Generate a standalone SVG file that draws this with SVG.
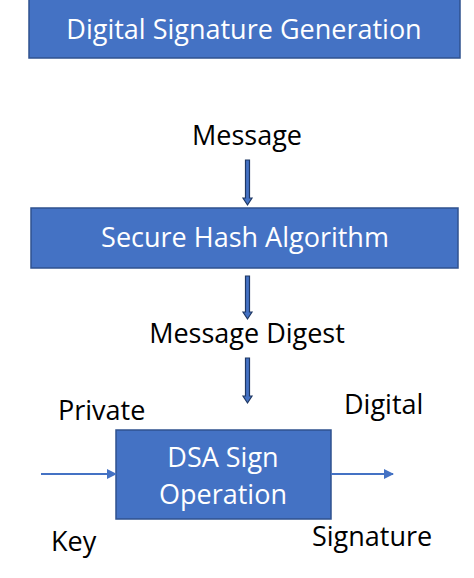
<svg xmlns="http://www.w3.org/2000/svg" width="474" height="578" viewBox="0 0 474 578">
<style>
.box{fill:#4472C4;stroke:#2F528F;stroke-width:1.5}
.wt{fill:#FFFFFF;font-family:"Open Sans",Lato,sans-serif;font-size:27px;text-anchor:middle}
.bt{fill:#000000;font-family:"Open Sans",Lato,sans-serif;font-size:27px}
.va{fill:#4472C4;stroke:#1F3864;stroke-width:1.2}
.ha{stroke:#4472C4;stroke-width:2;fill:none}
</style>
<defs>
<marker id="ah2" markerWidth="10" markerHeight="10" refX="9" refY="5" orient="auto" markerUnits="userSpaceOnUse">
<path d="M0,0 L10,5 L0,10 Z" fill="#4472C4"/>
</marker>
</defs>
<g id="title">
<rect class="box" x="29" y="-2" width="431" height="60"/>
<text class="wt" x="244" y="39">Digital Signature Generation</text>
</g>
<g id="message"><text class="bt" x="247" y="145" text-anchor="middle">Message</text></g>
<g id="sha">
<rect class="box" x="31" y="208" width="427" height="60"/>
<text class="wt" x="245" y="247">Secure Hash Algorithm</text>
</g>
<g id="digest"><text class="bt" x="247" y="343" text-anchor="middle">Message Digest</text></g>
<g id="dsa">
<rect class="box" x="116" y="430" width="215" height="89"/>
<text class="wt" x="223" y="467">DSA Sign</text>
<text class="wt" x="223" y="504">Operation</text>
</g>
<g id="privkey">
<text class="bt" x="58" y="420">Private</text>
<text class="bt" x="51" y="551">Key</text>
</g>
<g id="digsig">
<text class="bt" x="344" y="414">Digital</text>
<text class="bt" x="312" y="546">Signature</text>
</g>
<g id="connectors">
<path class="va" d="M245.5,160 H249.5 V198 H252 L247.5,205 L243,198 H245.5 Z"/>
<path class="va" d="M245.5,276 H249.5 V312 H252 L247.5,319 L243,312 H245.5 Z"/>
<path class="va" d="M245.5,358 H249.5 V396 H252 L247.5,403 L243,396 H245.5 Z"/>
<line class="ha" x1="41" y1="474" x2="116" y2="474" marker-end="url(#ah2)"/>
<line class="ha" x1="331" y1="474" x2="393" y2="474" marker-end="url(#ah2)"/>
</g>
</svg>
